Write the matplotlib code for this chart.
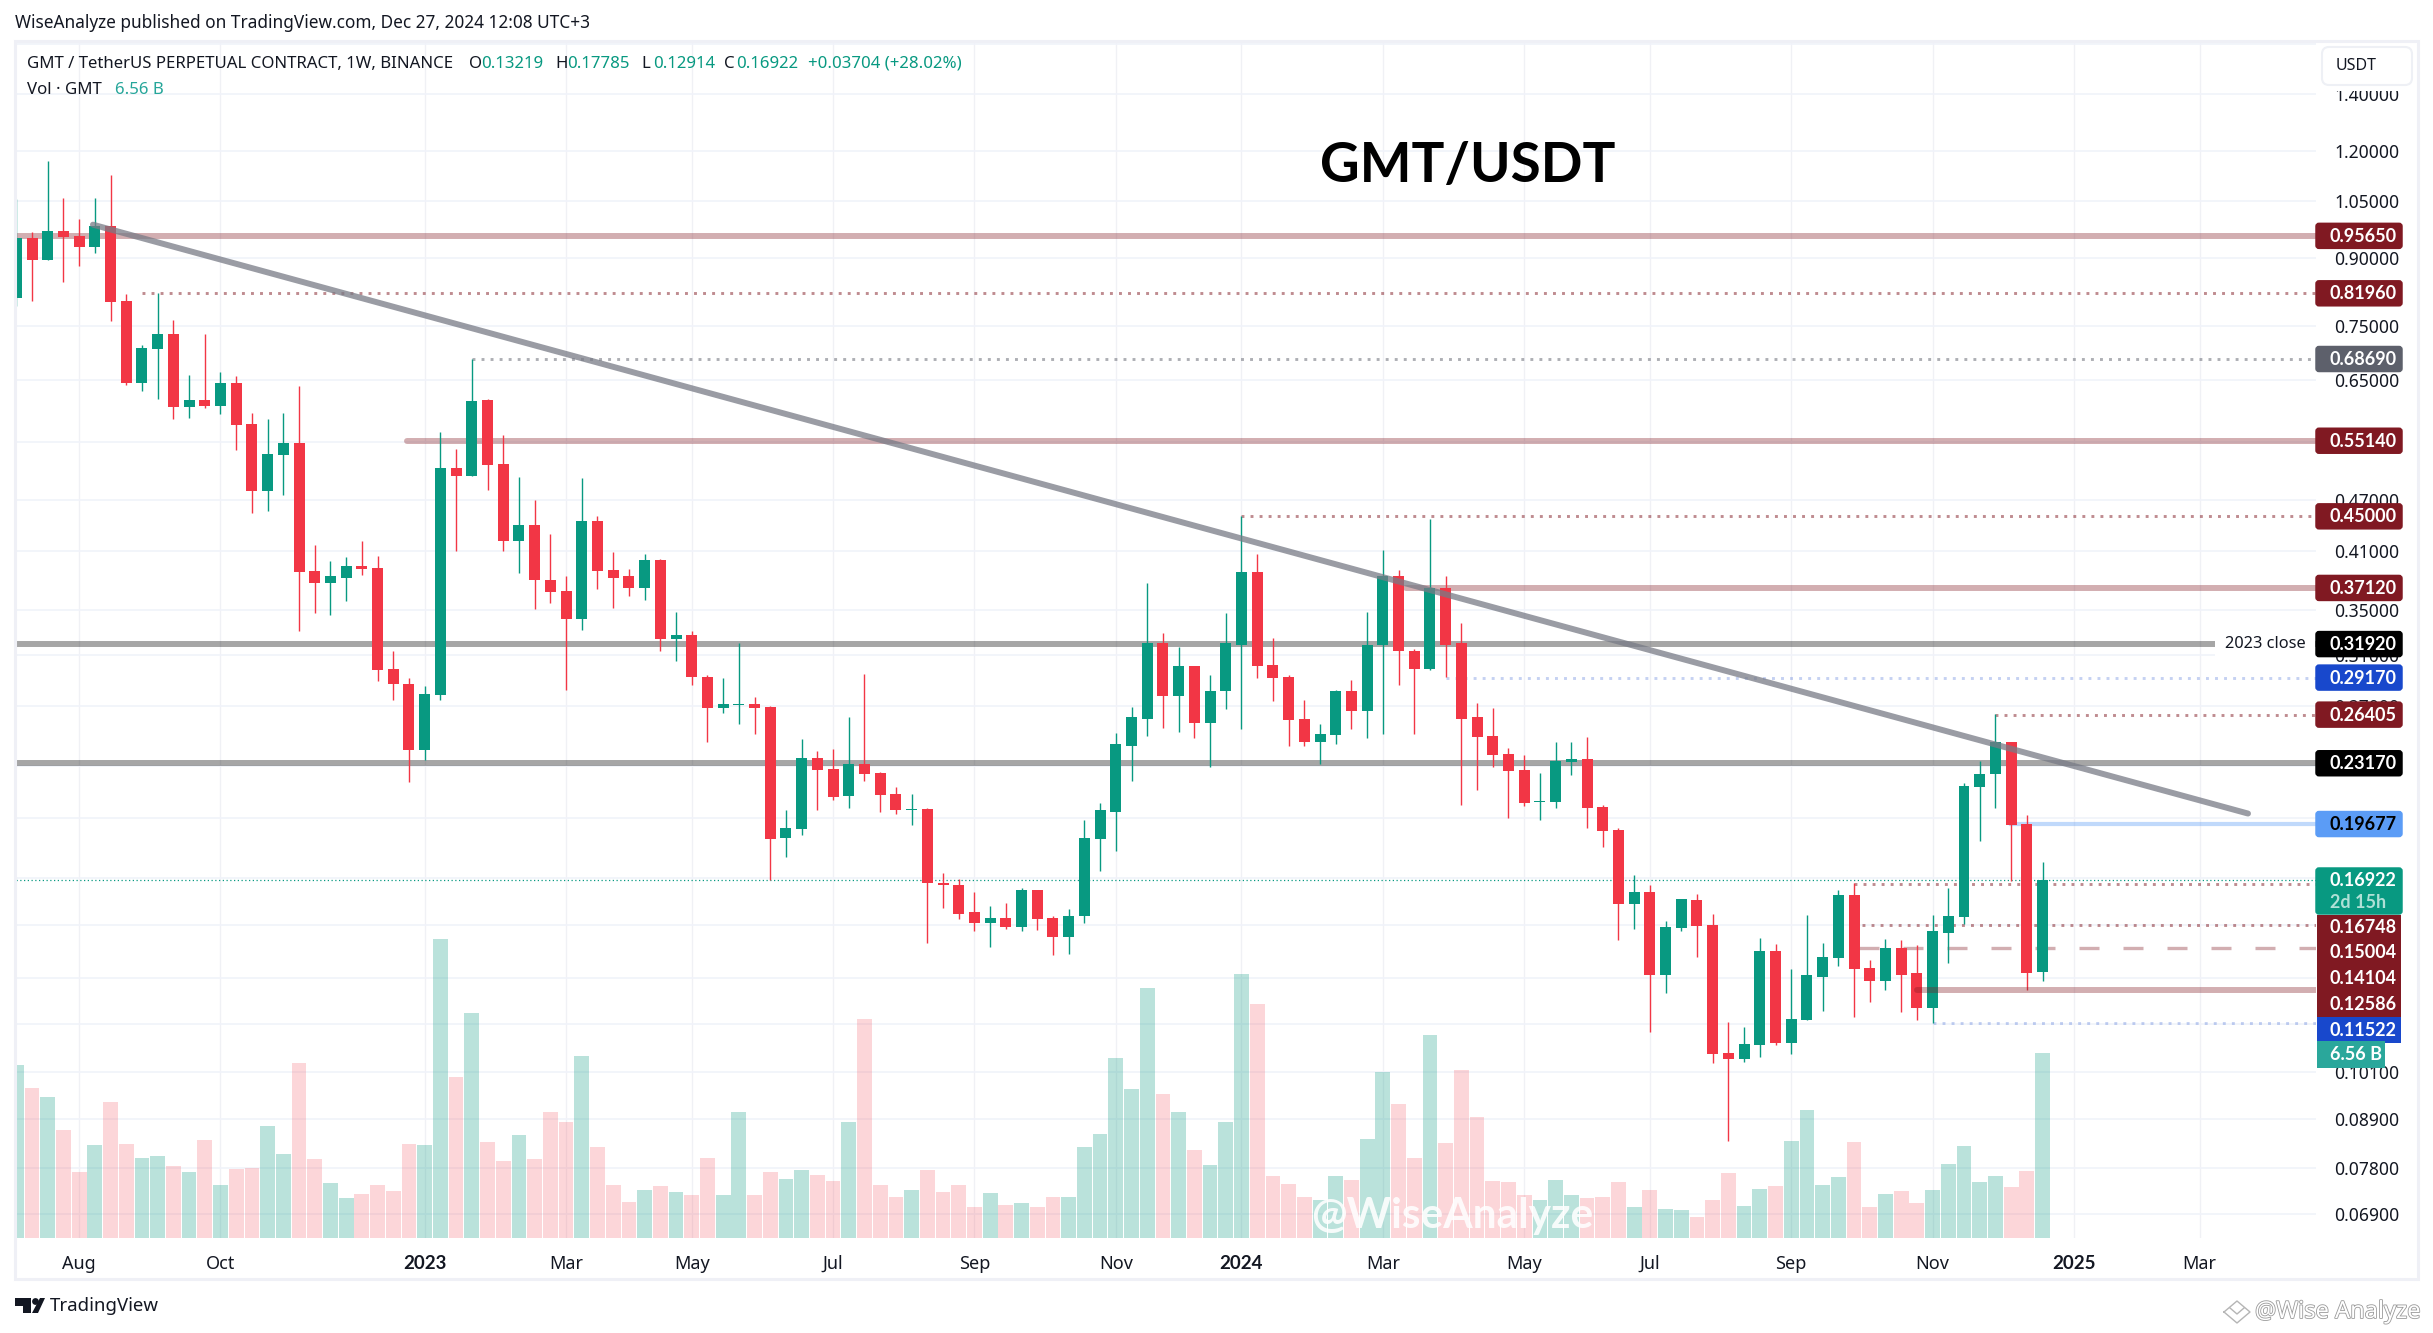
import matplotlib
matplotlib.use('Agg')
import matplotlib.pyplot as plt
import matplotlib.patheffects as pe
from matplotlib.patches import FancyBboxPatch, Rectangle, Polygon, Circle
from matplotlib.ticker import NullLocator

plt.rcParams['font.family'] = ['Noto Sans', 'DejaVu Sans']

# weekly candles, first one is the week of 2022-07-04
opens = [.8104,.9516,.8971,.9694,.9565,.9293,.9830,.8030,.6448,.7064,
         .7348,.6043,.6154,.6059,.6448,.5774,.4822,.5313,.5486,.3888,
         .3757,.3817,.3939,.3919,.2987,.2871,.2398,.2787,.5126,.5021,
         .6154,.5183,.4215,.4401,.3797,.3686,.3419,.4449,.3898,.3828,
         .3716,.4006,.3239,.3273,.2925,.2691,.2713,.2720,.2698,.1897,
         .1943,.2353,.2283,.2124,.2314,.2260,.2135,.2046,.2051,.1680,
         .1672,.1552,.1510,.1527,.1490,.1646,.1527,.1454,.1535,.1892,
         .2035,.2430,.2613,.3197,.2779,.3011,.2585,.2810,.3188,.3878,
         .3019,.2918,.2613,.2450,.2501,.2810,.2670,.3180,.3838,.3137,
         .2987,.3716,.3197,.2621,.2495,.2378,.2277,.2089,.2089,.2327,
         .2346,.2062,.1938,.1589,.1641,.1310,.1486,.1605,.1498,.1064,
         .1047,.1086,.1397,.1092,.1161,.1306,.1371,.1628,.1337,.1289,
         .1409,.1317,.1199,.1469,.1531,.2171,.2248,.2450,.1970,.13219]
highs = [1.0564,.9658,1.1705,1.0593,1.0019,1.0593,1.1274,.8187,.7140,.8202,
         .7637,.6586,.7348,.6638,.6569,.5948,.5853,.5948,.6396,.4171,
         .3995,.4039,.4215,.4050,.3129,.2910,.2848,.5647,.5399,.6869,
         .6171,.5602,.5007,.4703,.4293,.3838,.4994,.4510,.4094,.3908,
         .4072,.4015,.3475,.3309,.2941,.2910,.3197,.2771,.2706,.2041,
         .2475,.2392,.2405,.2621,.2948,.2265,.2171,.2135,.2057,.1727,
         .1696,.1637,.1580,.1593,.1659,.1650,.1535,.1564,.1987,.2084,
         .2514,.2698,.3760,.3290,.3171,.3011,.2941,.3466,.4510,.4072,
         .3248,.2941,.2748,.2578,.2825,.2902,.3484,.4116,.3898,.3154,
         .4470,.3838,.3374,.2727,.2691,.2417,.2372,.2260,.2450,.2456,
         .2488,.2073,.1949,.1714,.1672,.1515,.1610,.1632,.1543,.1155,
         .1139,.1447,.1424,.1334,.1539,.1428,.1650,.1677,.1367,.1443,
         .1439,.1420,.1539,.1655,.2200,.2333,.2642,.2450,.2014,.17785]
lows = [.7913,.8030,.8971,.8459,.8822,.9144,.7616,.6413,.6310,.6171,
        .5853,.5869,.6027,.5932,.5375,.4546,.4570,.4769,.3309,.3466,
        .3447,.3586,.3848,.2887,.2748,.2206,.2340,.2748,.4105,.5021,
        .4835,.4105,.3868,.3512,.3567,.2825,.3318,.3706,.3521,.3636,
        .3595,.3129,.3053,.2856,.2456,.2649,.2578,.2508,.1692,.1799,
        .1912,.2046,.2100,.2057,.2212,.2030,.2019,.1965,.1428,.1572,
        .1523,.1474,.1413,.1482,.1474,.1478,.1382,.1386,.1510,.1732,
        .1828,.2212,.2495,.2550,.2521,.2482,.2295,.2684,.2543,.2910,
        .2741,.2430,.2430,.2314,.2443,.2543,.2482,.2508,.2856,.2508,
        .2979,.2918,.2073,.2159,.2295,.1998,.2068,.1987,.2057,.2242,
        .1949,.1848,.1439,.1482,.1126,.1251,.1474,.1375,.1034,.0840,
        .1037,.1051,.1086,.1060,.1161,.1189,.1345,.1170,.1218,.1258,
        .1186,.1161,.1152,.1354,.1502,.1882,.2057,.1687,.1258,.12914]
closes = [.9516,.8971,.9694,.9540,.9293,.9830,.8010,.6448,.7083,.7348,
          .6043,.6154,.6059,.6448,.5758,.4822,.5327,.5486,.3878,.3757,
          .3828,.3939,.3908,.2979,.2864,.2398,.2794,.5126,.5021,.6138,
          .5168,.4215,.4401,.3787,.3676,.3419,.4449,.3888,.3817,.3716,
          .4006,.3239,.3273,.2918,.2691,.2720,.2720,.2691,.1892,.1949,
          .2353,.2277,.2118,.2314,.2254,.2130,.2041,.2051,.1677,.1668,
          .1547,.1510,.1527,.1490,.1646,.1523,.1454,.1535,.1897,.2041,
          .2437,.2621,.3197,.2779,.3011,.2585,.2817,.3197,.3878,.3011,
          .2910,.2606,.2450,.2508,.2810,.2670,.3188,.3838,.3129,.2987,
          .3716,.3188,.2613,.2488,.2372,.2271,.2084,.2095,.2333,.2346,
          .2057,.1933,.1589,.1641,.1310,.1490,.1610,.1494,.1060,.1047,
          .1089,.1397,.1092,.1164,.1310,.1375,.1628,.1334,.1289,.1409,
          .1313,.1199,.1474,.1535,.2177,.2254,.2450,.1965,.1320,.16922]
# volume in billions of GMT
volumes = [6.13,5.32,5.00,3.83,2.34,3.30,4.82,3.33,2.84,2.91,
           2.55,2.34,3.48,1.88,2.45,2.48,3.97,2.98,6.21,2.80,
           1.95,1.42,1.56,1.88,1.67,3.33,3.30,10.60,5.71,7.98,
           3.40,2.73,3.65,2.80,4.47,4.11,6.45,3.23,1.88,1.28,
           1.70,1.84,1.63,1.52,2.84,1.52,4.47,1.52,2.34,2.09,
           2.41,2.23,2.02,4.11,7.77,1.88,1.45,1.70,2.41,1.63,
           1.88,1.10,1.60,1.17,1.24,1.10,1.45,1.45,3.23,3.69,
           6.38,5.28,8.86,5.11,4.47,3.12,2.59,4.11,9.36,8.30,
           2.20,1.91,1.45,1.35,2.20,2.06,3.51,5.89,4.75,2.84,
           7.20,3.37,5.96,4.29,2.02,1.99,1.52,1.35,2.06,1.52,
           1.42,1.45,1.99,1.10,1.70,1.03,0.99,0.74,1.35,2.30,
           1.13,1.74,1.84,3.44,4.54,1.88,2.16,3.40,1.10,1.56,
           1.67,1.24,1.70,2.62,3.26,1.99,2.20,1.81,2.38,6.56]

price_ticks = [1.6,1.4,1.2,1.05,.9,.75,.65,.55,.47,.41,.35,.31,.27,.23,.2,.17,.15,.13,.115,.101,.089,.078,.069]
week_ticks = [4,13,26,35,43,52,61,70,78,87,96,104,113,122,131,139]
week_labels = ['Aug','Oct','2023','Mar','May','Jul','Sep','Nov','2024','Mar','May','Jul','Sep','Nov','2025','Mar']

# drawn levels: price, first week
thick_red = [(.9565,-1),(.5514,24.9),(.3712,88.5)]
thick_grey = [(.3192,-1),(.2317,-1)]
dotted_red = [(.8196,8),(.45,78),(.26405,126),(.16748,117),(.15004,117.5)]
dotted_blue = [(.2917,91),(.11522,122)]
trend_x = [4.88,142.08]
trend_y = [.9857,.2024]

# side labels: price text, colour
side_labels = [('0.95650','#801922'),('0.81960','#801922'),('0.68690','#5d606b'),
               ('0.55140','#801922'),('0.45000','#801922'),('0.37120','#801922'),
               ('0.31920','#000000'),('0.29170','#1848cc'),('0.26405','#801922'),
               ('0.23170','#000000'),('0.19677','#5b9cf6')]
stack_labels = [('0.16748','#801922',927.7),('0.15004','#801922',953),('0.14104','#801922',978.7),
                ('0.12586','#801922',1004),('0.11522','#1848cc',1030)]

GREEN = '#089981'
RED = '#f23645'
TEXT = '#131722'
W, H = 2433, 1333
DOT = (0,(1,2.1))

fig = plt.figure(figsize=(W/100, H/100), dpi=100, facecolor='white')
rect = [15/W, (H-1238)/H, (2316-15)/W, (1238-42)/H]
ax = fig.add_axes(rect, zorder=1)
ax_vol = fig.add_axes(rect, zorder=2)
ov = fig.add_axes([0,0,1,1], zorder=3)

ax.set_yscale('log')
ax.set_ylim(0.06466, 1.6107)
ax.set_xlim(-0.083, 146.41)
for s in ax.spines.values():
    s.set_visible(False)
ax.yaxis.tick_right()
ax.yaxis.set_minor_locator(NullLocator())
ax.yaxis.set_major_locator(plt.FixedLocator(price_ticks))
ax.set_yticklabels(['' if p == 1.6 else '%.5f' % p for p in price_ticks], fontsize=12.6, color=TEXT)
ax.set_xticks(week_ticks)
ax.set_xticklabels(week_labels, fontsize=13, color=TEXT)
for lab in ax.get_xticklabels():
    if lab.get_text().startswith('20'):
        lab.set_family('Lato')
        lab.set_fontweight('bold')
        lab.set_fontsize(13.5)
ax.tick_params(length=0, axis='y', pad=13)
ax.tick_params(length=0, axis='x', pad=12)
ax.grid(True, axis='y', color='#f0f3fa', lw=1.2)
ax.grid(True, axis='x', color='#f0f1f5', lw=1.0)
ax.set_axisbelow(True)

weeks = list(range(len(opens)))
colors = [GREEN if c >= o else RED for o, c in zip(opens, closes)]

# levels under the candles
for p, start in thick_red:
    ax.plot([start, 147], [p, p], color='#801922', alpha=.35, lw=4.3, zorder=1.5, solid_capstyle='round')
for p, start in thick_grey:
    ax.plot([start, 147], [p, p], color='black', alpha=.35, lw=4.3, zorder=1.5, solid_capstyle='butt')
for p, start in dotted_red:
    ax.plot([start, 147], [p, p], color='#801922', alpha=.5, lw=2.1, ls=DOT, zorder=1.5)
for p, start in dotted_blue:
    ax.plot([start, 147], [p, p], color='#1848cc', alpha=.25, lw=2.1, ls=DOT, zorder=1.5)
ax.plot([29,147], [.6869,.6869], color='#5d606b', alpha=.5, lw=2.1, ls=DOT, zorder=1.5)
ax.plot([117.3,147], [.14104,.14104], color='#801922', alpha=.35, lw=2.4, ls=(0,(6,7.2)), zorder=1.5)
ax.plot([127,147], [.19677,.19677], color='#5b9cf6', alpha=.38, lw=3, zorder=1.5)
ax.plot([-1,147], [.16922,.16922], color=GREEN, lw=.9, ls=(0,(1,2)), zorder=1.5)

# candles
ax.vlines(weeks, lows, highs, colors=colors, lw=1.0, zorder=3)
ax.bar(weeks, [abs(c-o) for o, c in zip(opens, closes)], bottom=[min(o, c) for o, c in zip(opens, closes)],
       width=.7, color=colors, lw=0, zorder=3)

# trendline and the last support sit on top
ax.plot([121,147], [.12586,.12586], color='#801922', alpha=.35, lw=4.3, zorder=4, solid_capstyle='round')
ax.plot(trend_x, trend_y, color='#787b86', alpha=.75, lw=4.3, zorder=4, solid_capstyle='round')

# volume pane
ax_vol.set_xlim(ax.get_xlim())
ax_vol.set_ylim(0, 42.4)
ax_vol.axis('off')
for w, v, col in zip(weeks, volumes, colors):
    ax_vol.bar(w, v, width=.94, color=col, alpha=.28 if col == GREEN else .2, lw=0)

# overlay in picture pixels, y down
ov.set_xlim(0, W)
ov.set_ylim(H, 0)
ov.axis('off')
ov.patch.set_alpha(0)
fig.canvas.draw()

def price_y(p):
    return H - ax.transData.transform((0, p))[1]

def box(y0, y1, col, x1=2401):
    ov.add_patch(FancyBboxPatch((2317, y0+2), x1-2317, y1-y0-4, boxstyle='round,pad=0,rounding_size=2',
                                mutation_aspect=1, fc=col, ec=col, lw=2.5))

def label(txt, y, col='white'):
    ov.text(2330, y, txt, color=col, fontsize=13, va='center', ha='left', family='Lato', fontweight='bold')

# frame
ov.add_patch(Rectangle((15, 41), 2418-15, 1279-41, fc='none', ec='#eff0f6', lw=2.2))

# scale button
ov.add_patch(Rectangle((2317, 44), 99, 47, fc='white', ec='none'))
ov.add_patch(FancyBboxPatch((2322, 47), 90, 38, boxstyle='round,pad=0,rounding_size=7', fc='white', ec='#eef0f5', lw=1.5))
ov.text(2336, 65.5, 'USDT', color=TEXT, fontsize=11.5, va='center')

for txt, col in side_labels:
    y = price_y(float(txt))
    box(y-13.5, y+13.5, col)
    label(txt, y+.5, 'black' if txt == '0.19677' else 'white')

# last price with countdown
box(867, 915, GREEN)
label('%.5f' % closes[-1], 880.5)
label('2d 15h', 902, '#b0e0d6')
# the stacked labels near the price
ov.add_patch(Rectangle((2317, 915), 84, 102, fc='#801922', ec='none'))
ov.add_patch(Rectangle((2317, 1017), 84, 26, fc='#1848cc', ec='none'))
for txt, col, y in stack_labels:
    label(txt, y)
ov.add_patch(Rectangle((2317, 1041), 68, 27, fc='#2aa79b', ec='none'))
label('6.56 B', 1054.5)

# level note
ov.text(2265, 644, '2023 close', color=TEXT, fontsize=11.8, va='center', ha='center',
        bbox=dict(fc='white', ec='none', pad=7.2))

# header
ov.text(15, 23, 'WiseAnalyze published on TradingView.com, Dec 27, 2024 12:08 UTC+3', color=TEXT, fontsize=12.4, va='center')
ov.text(27, 64, 'GMT / TetherUS PERPETUAL CONTRACT, 1W, BINANCE', color=TEXT, fontsize=12.1, va='center')
for x, letter, val in [(469,'O','0.13219'),(555,'H','0.17785'),(641,'L','0.12914'),(724,'C','0.16922')]:
    ov.text(x, 64, letter, color=TEXT, fontsize=12.1, va='center')
    ov.text(x+12, 64, val, color=GREEN, fontsize=12.1, va='center')
ov.text(808, 64, '+0.03704 (+28.02%)', color=GREEN, fontsize=12.1, va='center')
ov.text(27, 90, 'Vol · GMT', color=TEXT, fontsize=12.1, va='center')
ov.text(115, 90, '6.56 B', color='#26a69a', fontsize=12.1, va='center')

ov.text(1468, 166, 'GMT/USDT', color='black', fontsize=39.5, family='Lato', fontweight='bold', va='center', ha='center')
ov.text(1452, 1216, '@WiseAnalyze', color='white', alpha=.88, fontsize=30.5, family='Lato', fontweight='bold', va='center', ha='center')

# footer logo
ov.add_patch(Polygon([(15,1298),(31,1298),(31,1313),(23,1313),(23,1306),(15,1306)], fc=TEXT, ec='none'))
ov.add_patch(Circle((35.5,1301.5), 3.4, fc=TEXT, ec='none'))
ov.add_patch(Polygon([(40,1298),(45,1298),(38,1313),(32,1313)], fc=TEXT, ec='none'))
ov.text(50, 1306, 'TradingView', color=TEXT, fontsize=13.4, va='center')

# bottom right stamp
stamp = ov.text(2255, 1312, '@Wise Analyze', color='white', fontsize=17, va='center')
stamp.set_path_effects([pe.withStroke(linewidth=1.2, foreground='#9a9a9a')])
ov.plot([2224,2237,2250,2237,2224], [1312,1323,1312,1301,1312], color='#b5b5b5', lw=1)
ov.plot([2230,2237,2244], [1308,1314,1308], color='#b5b5b5', lw=1)

fig.savefig('out.png', dpi=100, facecolor='white')
